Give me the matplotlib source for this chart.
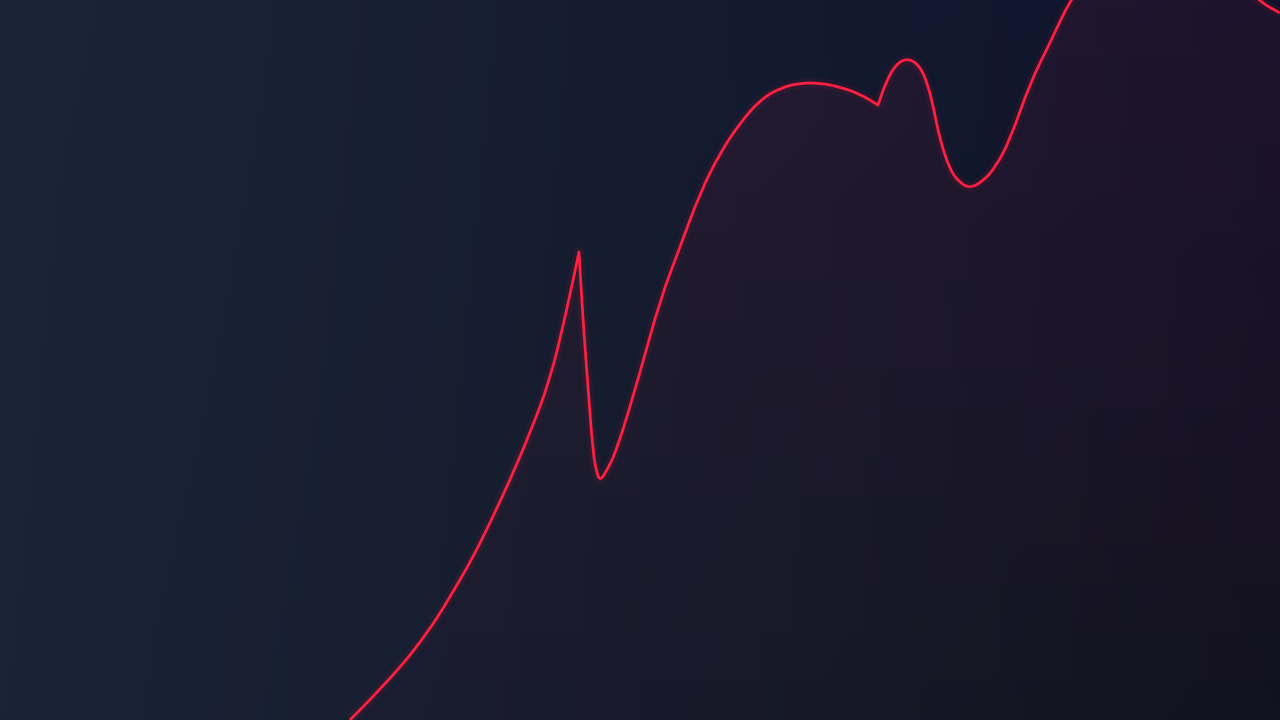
import numpy as np
import matplotlib.pyplot as plt
from matplotlib.path import Path
from matplotlib.patches import PathPatch

x = [350, 390, 430, 460, 473, 490, 510, 530, 550, 565, 579, 583, 588, 593, 597, 600,
     605, 617, 640, 660, 680, 700, 720, 740, 760, 780, 800, 820, 840, 860, 878,
     886, 896, 908, 920, 928, 934, 940, 950, 960, 970, 982, 995, 1010, 1030, 1050,
     1070, 1100, 1150, 1210, 1257, 1280]
y = [720, 680, 630, 580, 557, 523, 480, 433, 380, 318, 252, 320, 387, 453, 474, 480,
     474, 450, 373, 300, 247, 193, 153, 123, 100, 88, 83, 83, 87, 94, 105,
     82, 64, 58, 66, 85, 110, 140, 170, 183, 188, 182, 168, 140, 83, 43,
     0, -45, -70, -50, 0, 13]
sharp = [579, 878]   # x positions where the line has a hard corner

W, H = 1280, 720

fig = plt.figure(figsize=(12.8, 7.2), dpi=100)
ax = fig.add_axes([0, 0, 1, 1])
ax.set_xlim(0, W)
ax.set_ylim(H, 0)
ax.axis('off')

# background: soft navy gradient, darker to the right
def hex2rgb(h):
    h = h.lstrip('#')
    return np.array([int(h[i:i + 2], 16) for i in (0, 2, 4)]) / 255.0

tl, tr = hex2rgb('#1c2537'), hex2rgb('#0e132b')
bl, br = hex2rgb('#1a2437'), hex2rgb('#10121f')
u = np.linspace(0, 1, 128)[None, :, None]
v = np.linspace(0, 1, 72)[:, None, None]
bg = (1 - v) * ((1 - u) * tl + u * tr) + v * ((1 - u) * bl + u * br)
ax.imshow(bg, extent=[0, W, H, 0], aspect='auto', interpolation='bicubic', zorder=0)

# smooth path through the points (quadratic segments between midpoints)
pts = list(zip(x, y))
verts = [pts[0]]
codes = [Path.MOVETO]
for i in range(1, len(pts) - 1):
    p, q = pts[i], pts[i + 1]
    mid = ((p[0] + q[0]) / 2, (p[1] + q[1]) / 2)
    verts += [p, mid]
    if p[0] in sharp:
        codes += [Path.LINETO, Path.LINETO]
    else:
        codes += [Path.CURVE3, Path.CURVE3]
verts.append(pts[-1])
codes.append(Path.LINETO)
line_path = Path(verts, codes)

# area under the line, closed along the bottom edge
area_path = Path(verts + [(W, H), (x[0], H), pts[0]],
                 codes + [Path.LINETO, Path.LINETO, Path.CLOSEPOLY])
area = PathPatch(area_path, facecolor='none', edgecolor='none')
ax.add_patch(area)
grad = np.zeros((100, 2, 4))
grad[..., 0] = 0.85
grad[..., 1] = 0.10
grad[..., 2] = 0.25
grad[..., 3] = np.linspace(0.09, 0.02, 100)[:, None]
im = ax.imshow(grad, extent=[0, W, H, -80], aspect='auto', zorder=1)
im.set_clip_path(area)

# the line with a faint glow
ax.add_patch(PathPatch(line_path, facecolor='none', edgecolor='#ff1f40',
                       lw=7, alpha=0.07, joinstyle='round', zorder=2))
ax.add_patch(PathPatch(line_path, facecolor='none', edgecolor='#ff1f40',
                       lw=2.0, joinstyle='round', zorder=3))

ax.set_xlim(0, W)
ax.set_ylim(H, 0)
fig.savefig('out.png', dpi=100)
